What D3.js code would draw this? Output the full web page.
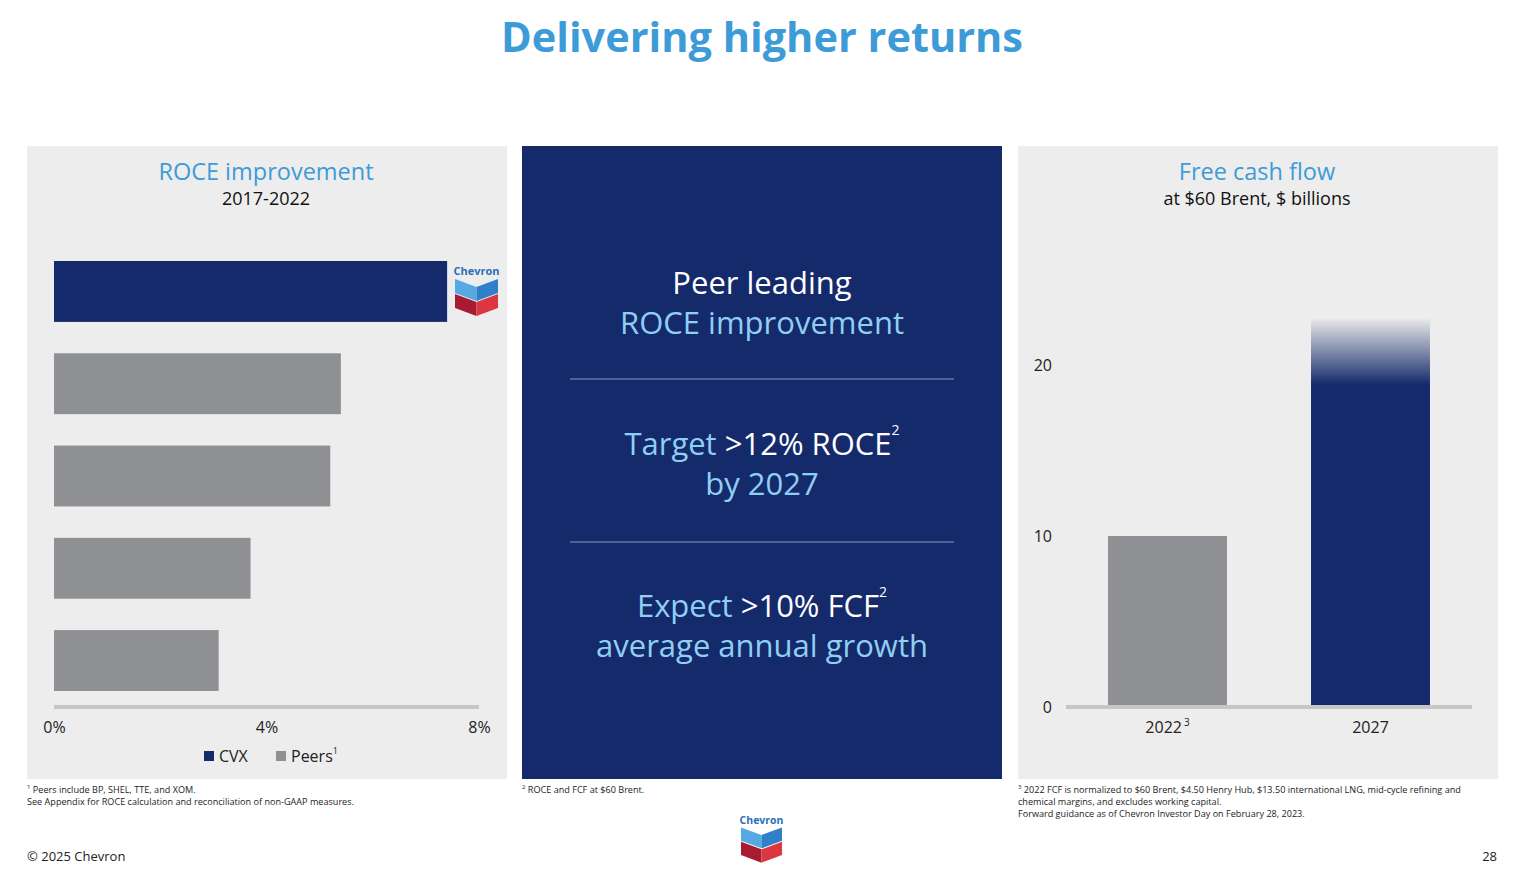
<!DOCTYPE html>
<html lang="en">
<head>
<meta charset="UTF-8">
<title>Delivering higher returns</title>
<script src="https://d3js.org/d3.v7.min.js"></script>
<style>
  body, html { margin: 0; padding: 0; background: #fff; }
  svg { display: block; font-family: 'Open Sans', sans-serif; }
</style>
</head>
<body>
<svg id="slide" width="1536" height="871"></svg>
<script>
// ROCE improvement 2017-2022 (%)
const roceNames = ['CVX', 'Peer A', 'Peer B', 'Peer C', 'Peer D'];
const roceValues = [7.4, 5.4, 5.2, 3.7, 3.1];
const roceTicks = [0, 4, 8];

// Free cash flow at $60 Brent ($ billions)
const fcfYears = ['2022', '2027'];
const fcfSup = ['3', ''];
const fcfValues = [10, 22.7];
const fcfTicks = [0, 10, 20];

const navy = '#152a6b', grey = '#8f9093', panelBg = '#ededed',
      titleBlue = '#3d9bd7', lightBlue = '#8fcff4', axisGrey = '#c6c6c6';

const svg = d3.select('#slide');

// title
svg.append('text')
  .attr('x', 762).attr('y', 36)
  .attr('text-anchor', 'middle').attr('dominant-baseline', 'central')
  .attr('fill', titleBlue).style('font-size', '41.5px').style('font-weight', 700)
  .text('Delivering higher returns');

// panels
const panels = [
  { x: 27, fill: panelBg }, { x: 522, fill: navy }, { x: 1018, fill: panelBg }
];
panels.forEach(p => {
  svg.append('rect').attr('x', p.x).attr('y', 146).attr('width', 480).attr('height', 633).attr('fill', p.fill);
});

function panelTitle(cx, title, sub) {
  svg.append('text').attr('x', cx).attr('y', 171).attr('text-anchor', 'middle')
    .attr('dominant-baseline', 'central').attr('fill', titleBlue).style('font-size', '23.5px').text(title);
  svg.append('text').attr('x', cx).attr('y', 198).attr('text-anchor', 'middle')
    .attr('dominant-baseline', 'central').attr('fill', '#111').style('font-size', '18px').text(sub);
}

// chevron logo
function logo(x, y, w) {
  const s = w / 43;
  const g = svg.append('g').attr('transform', `translate(${x},${y}) scale(${s})`);
  g.append('text').attr('x', 21.5).attr('y', 9).attr('text-anchor', 'middle')
    .attr('fill', '#2a6fb8').style('font-size', '11px').style('font-weight', 700).text('Chevron');
  const chev = (top, cl, cr) => {
    g.append('polygon').attr('points', `0,${top} 21.5,${top + 8} 21.5,${top + 22} 0,${top + 14}`).attr('fill', cl);
    g.append('polygon').attr('points', `21.5,${top + 8} 43,${top} 43,${top + 14} 21.5,${top + 22}`).attr('fill', cr);
  };
  chev(13, '#55aae3', '#2f7fca');
  chev(28, '#a81c32', '#dc3640');
}

// ---------- left: ROCE ----------
panelTitle(266, 'ROCE improvement', '2017-2022');

const xRoce = d3.scaleLinear().domain([0, 8]).range([54, 479]);
const yRoce = d3.scaleBand().domain(roceNames).range([261, 691]).paddingInner(0.34).paddingOuter(0);

svg.append('g').selectAll('rect').data(roceValues).join('rect')
  .attr('x', xRoce(0))
  .attr('y', (d, i) => yRoce(roceNames[i]))
  .attr('width', d => xRoce(d) - xRoce(0))
  .attr('height', yRoce.bandwidth())
  .attr('fill', (d, i) => i === 0 ? navy : grey);

svg.append('line').attr('x1', xRoce(0)).attr('x2', xRoce(8)).attr('y1', 707).attr('y2', 707)
  .attr('stroke', axisGrey).attr('stroke-width', 4);

const xAxis = svg.append('g').attr('transform', 'translate(0,707)')
  .call(d3.axisBottom(xRoce).tickValues(roceTicks).tickSize(0).tickPadding(15).tickFormat(d => d + '%'));
xAxis.select('.domain').remove();
xAxis.selectAll('text').style('font-size', '16px').style('font-family', "'Open Sans', sans-serif").attr('fill', '#222');

logo(455, 266, 43);

// legend
const legend = [
  { label: 'CVX', sup: '', color: navy, x: 204 },
  { label: 'Peers', sup: '1', color: grey, x: 276 }
];
legend.forEach(l => {
  svg.append('rect').attr('x', l.x).attr('y', 751).attr('width', 10).attr('height', 10).attr('fill', l.color);
  const t = svg.append('text').attr('x', l.x + 15).attr('y', 756).attr('dominant-baseline', 'central')
    .attr('fill', '#222').style('font-size', '16px').text(l.label);
  if (l.sup) t.append('tspan').attr('dy', -6).style('font-size', '9px').text(l.sup);
});

// ---------- center ----------
const centerLines = [
  { y: 282, parts: [['Peer leading', '#fff']] },
  { y: 322, parts: [['ROCE improvement', lightBlue]] },
  { y: 443, parts: [['Target ', lightBlue], ['>12% ROCE', '#fff']], sup: '2' },
  { y: 483, parts: [['by 2027', lightBlue]] },
  { y: 605, parts: [['Expect ', lightBlue], ['>10% FCF', '#fff']], sup: '2' },
  { y: 645, parts: [['average annual growth', lightBlue]] }
];
centerLines.forEach(l => {
  const t = svg.append('text').attr('x', 762).attr('y', l.y).attr('text-anchor', 'middle')
    .attr('dominant-baseline', 'central').style('font-size', '31px');
  l.parts.forEach(p => t.append('tspan').attr('fill', p[1]).text(p[0]));
  if (l.sup) t.append('tspan').attr('fill', '#fff').attr('dy', -14).style('font-size', '14px').text(l.sup);
});
[379, 542].forEach(y => {
  svg.append('line').attr('x1', 570).attr('x2', 954).attr('y1', y).attr('y2', y)
    .attr('stroke', '#8e98bb').attr('stroke-width', 1.2);
});

// ---------- right: FCF ----------
panelTitle(1257, 'Free cash flow', 'at $60 Brent, $ billions');

const xFcf = d3.scaleBand().domain(fcfYears).range([1066, 1472]).paddingInner(0.414).paddingOuter(0.207);
const yFcf = d3.scaleLinear().domain([0, 20]).range([707, 365]);

const defs = svg.append('defs');
const grad = defs.append('linearGradient').attr('id', 'fade').attr('x1', 0).attr('y1', 0).attr('x2', 0).attr('y2', 1);
grad.append('stop').attr('offset', '0%').attr('stop-color', navy).attr('stop-opacity', 0.02);
grad.append('stop').attr('offset', '17%').attr('stop-color', navy).attr('stop-opacity', 1);
grad.append('stop').attr('offset', '100%').attr('stop-color', navy).attr('stop-opacity', 1);

svg.append('g').selectAll('rect').data(fcfValues).join('rect')
  .attr('x', (d, i) => xFcf(fcfYears[i]))
  .attr('y', d => yFcf(d))
  .attr('width', xFcf.bandwidth())
  .attr('height', d => yFcf(0) - yFcf(d))
  .attr('fill', (d, i) => i === 0 ? grey : 'url(#fade)');

svg.append('line').attr('x1', 1066).attr('x2', 1472).attr('y1', 707).attr('y2', 707)
  .attr('stroke', axisGrey).attr('stroke-width', 4);

const yAxis = svg.append('g').attr('transform', 'translate(1056,0)')
  .call(d3.axisLeft(yFcf).tickValues(fcfTicks).tickSize(0).tickPadding(4));
yAxis.select('.domain').remove();
yAxis.selectAll('text').style('font-size', '16px').style('font-family', "'Open Sans', sans-serif").attr('fill', '#222');

const xAxisF = svg.append('g').attr('transform', 'translate(0,707)')
  .call(d3.axisBottom(xFcf).tickSize(0).tickPadding(15));
xAxisF.select('.domain').remove();
xAxisF.selectAll('text').style('font-size', '16px').style('font-family', "'Open Sans', sans-serif").attr('fill', '#222')
  .each(function (d, i) {
    if (fcfSup[i]) d3.select(this).append('tspan').attr('dx', 2).attr('dy', -7).style('font-size', '10px').text(fcfSup[i]);
  });

// ---------- footnotes ----------
const notes = [
  { x: 27, lines: [['1', ' Peers include BP, SHEL, TTE, and XOM.'], ['', 'See Appendix for ROCE calculation and reconciliation of non-GAAP measures.']] },
  { x: 522, lines: [['2', ' ROCE and FCF at $60 Brent.']] },
  { x: 1018, lines: [['3', ' 2022 FCF is normalized to $60 Brent, $4.50 Henry Hub, $13.50 international LNG, mid-cycle refining and'],
    ['', 'chemical margins, and excludes working capital.'], ['', 'Forward guidance as of Chevron Investor Day on February 28, 2023.']] }
];
notes.forEach(n => {
  n.lines.forEach((l, i) => {
    const t = svg.append('text').attr('x', n.x).attr('y', 789 + i * 12).attr('dominant-baseline', 'central')
      .attr('fill', '#222').style('font-size', '9.1px');
    if (l[0]) t.append('tspan').attr('dy', -2).style('font-size', '6px').text(l[0]);
    t.append('tspan').attr('dy', l[0] ? 2 : 0).text(l[1]);
  });
});

svg.append('text').attr('x', 27).attr('y', 856).attr('dominant-baseline', 'central')
  .attr('fill', '#222').style('font-size', '13px').text('© 2025 Chevron');
svg.append('text').attr('x', 1497).attr('y', 856).attr('text-anchor', 'end').attr('dominant-baseline', 'central')
  .attr('fill', '#222').style('font-size', '13px').text('28');

logo(741, 815, 41);
</script>
</body>
</html>
